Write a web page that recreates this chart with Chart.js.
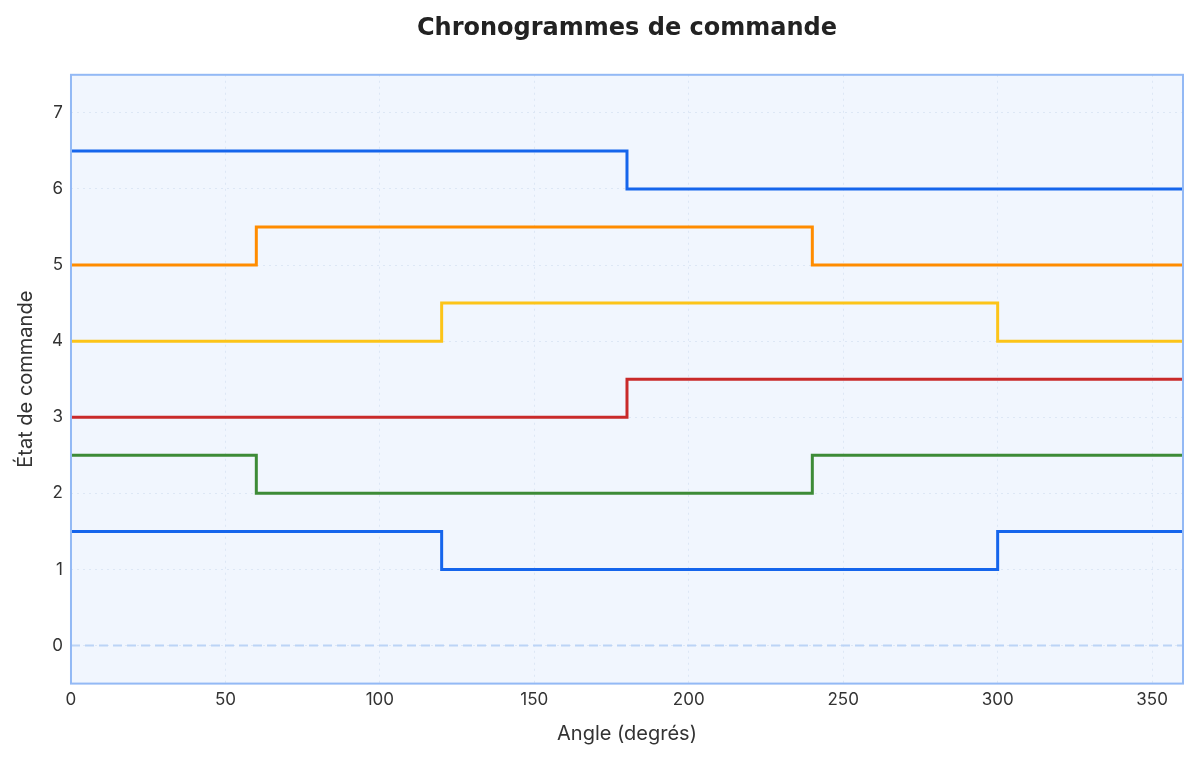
<!DOCTYPE html>
<html>
<head>
<meta charset="utf-8">
<script src="https://cdn.jsdelivr.net/npm/chart.js@4"></script>
<style>
  body { margin: 0; background: #fff; }
  #canvas { display: block; }
</style>
</head>
<body>
<canvas id="canvas" width="1200" height="760"></canvas>
<script>
// angles where each signal changes, and the level it takes from there
const angles1 = [0, 180, 360]
const levels1 = [6.5, 6, 6]
const angles2 = [0, 60, 240, 360]
const levels2 = [5, 5.5, 5, 5]
const angles3 = [0, 120, 300, 360]
const levels3 = [4, 4.5, 4, 4]
const angles4 = [0, 180, 360]
const levels4 = [3, 3.5, 3.5]
const angles5 = [0, 60, 240, 360]
const levels5 = [2.5, 2, 2.5, 2.5]
const angles6 = [0, 120, 300, 360]
const levels6 = [1.5, 1, 1.5, 1.5]
const zeroAngles = [0, 360]
const zeroLevels = [0, 0]

const xTickValues = [0, 50, 100, 150, 200, 250, 300, 350]
const yTickValues = [0, 1, 2, 3, 4, 5, 6, 7]

const colors = ['#1565ec', '#ff8c00', '#fcc419', '#c92a2a', '#3d8b37', '#1565ec']

function toPoints(xs, ys) {
  let pts = []
  for (let i = 0; i < xs.length; i++) {
    pts.push({ x: xs[i], y: ys[i] })
  }
  return pts
}

const series = [
  [angles1, levels1], [angles2, levels2], [angles3, levels3],
  [angles4, levels4], [angles5, levels5], [angles6, levels6]
]

let datasets = series.map(function (s, i) {
  return {
    data: toPoints(s[0], s[1]),
    borderColor: colors[i],
    borderWidth: 3,
    stepped: true,
    pointRadius: 0,
    fill: false
  }
})

// ligne de référence à 0
datasets.unshift({
  data: toPoints(zeroAngles, zeroLevels),
  borderColor: '#bcd4f6',
  borderWidth: 2,
  borderDash: [9, 5],
  pointRadius: 0,
  fill: false
})

const plotArea = {
  id: 'plotArea',
  beforeDraw(chart) {
    const { ctx, chartArea: a } = chart
    ctx.save()
    ctx.fillStyle = '#f1f6fe'
    ctx.fillRect(a.left, a.top, a.right - a.left, a.bottom - a.top)
    ctx.restore()
  },
  afterDraw(chart) {
    const { ctx, chartArea: a } = chart
    ctx.save()
    ctx.strokeStyle = '#93b9f5'
    ctx.lineWidth = 2
    ctx.strokeRect(a.left, a.top, a.right - a.left, a.bottom - a.top)
    ctx.restore()
  }
}

const font = "Inter, 'Noto Sans', sans-serif"
const titleFont = "'DejaVu Sans', sans-serif"

new Chart(document.getElementById('canvas'), {
  type: 'line',
  data: { datasets: datasets },
  plugins: [plotArea],
  options: {
    responsive: false,
    devicePixelRatio: 1,
    animation: false,
    layout: { padding: { left: 10, right: 17, top: 6, bottom: 10 } },
    plugins: {
      legend: { display: false },
      tooltip: { enabled: false },
      title: {
        display: true,
        fullSize: false,
        text: 'Chronogrammes de commande',
        color: '#222',
        font: { family: titleFont, size: 24, weight: 'bold' },
        padding: { top: 8, bottom: 32 }
      }
    },
    scales: {
      x: {
        type: 'linear',
        min: 0,
        max: 360,
        afterBuildTicks(scale) {
          scale.ticks = xTickValues.map(v => ({ value: v }))
        },
        ticks: { color: '#333', font: { family: font, size: 17 }, padding: 6 },
        grid: { color: '#dde7f5', lineWidth: 1, drawTicks: false },
        border: { display: false, dash: [2, 4] },
        title: {
          display: true,
          text: 'Angle (degrés)',
          color: '#333',
          font: { family: font, size: 20 },
          padding: { top: 6 }
        }
      },
      y: {
        type: 'linear',
        min: -0.5,
        max: 7.5,
        afterBuildTicks(scale) {
          scale.ticks = yTickValues.map(v => ({ value: v }))
        },
        ticks: { color: '#333', font: { family: font, size: 17 }, padding: 8 },
        grid: { color: '#dde7f5', lineWidth: 1, drawTicks: false },
        border: { display: false, dash: [2, 4] },
        title: {
          display: true,
          text: 'État de commande',
          color: '#333',
          font: { family: font, size: 20 },
          padding: { bottom: 6 }
        }
      }
    }
  }
})
</script>
</body>
</html>
